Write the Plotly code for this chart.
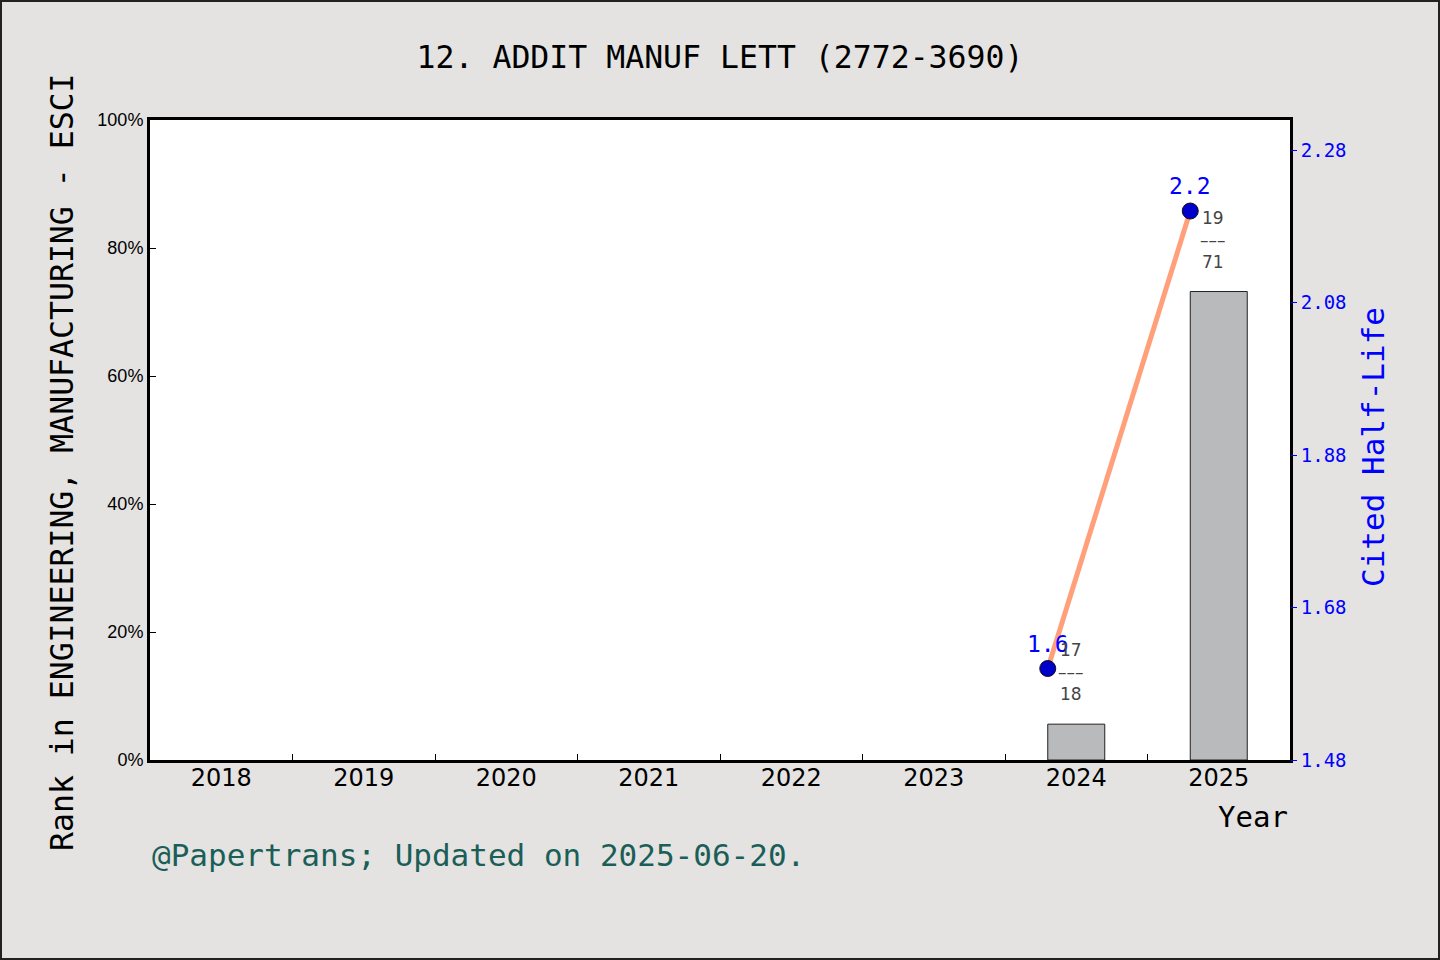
import plotly.graph_objects as go

# data
years = [2018, 2019, 2020, 2021, 2022, 2023, 2024, 2025]
rank_pct = [None, None, None, None, None, None, 5.6, 73.2]
half_life = [None, None, None, None, None, None, 1.6, 2.2]
rank_pos = [None, None, None, None, None, None, 17, 19]
rank_total = [None, None, None, None, None, None, 18, 71]
right_ticks = [1.48, 1.68, 1.88, 2.08, 2.28]
left_ticks = [0, 20, 40, 60, 80, 100]

title_text = "12. ADDIT MANUF LETT (2772-3690)"
left_title = "Rank in ENGINEERING, MANUFACTURING - ESCI"
right_title = "Cited Half-Life"
footer = "@Papertrans; Updated on 2025-06-20."

MONO = "DejaVu Sans Mono"
BG = "#e4e3e1"
W, H = 1440, 960
ML, MR, MT, MB = 150, 150, 120, 200
PW, PH = W - ML - MR, H - MT - MB
shift = 0.2  # line points sit at the left edge of each bar

line_x = [y - shift for y in years]


def px_x(x):
    return (x - ML) / PW


def px_y(y):
    return (MT + PH - y) / PH


fig = go.Figure()

fig.add_trace(go.Bar(
    x=years, y=rank_pct, width=0.4,
    marker=dict(color="#b9babc", line=dict(color="#222222", width=1)),
    showlegend=False, hoverinfo="skip",
))

fig.add_trace(go.Scatter(
    x=line_x, y=half_life, yaxis="y2", mode="lines+markers",
    line=dict(color="#ffa07a", width=5),
    marker=dict(size=16, color="#0000cd", line=dict(color="#111111", width=1)),
    showlegend=False, connectgaps=True,
))

# value labels above the markers
for xv, hv in zip(line_x, half_life):
    if hv is None:
        continue
    fig.add_annotation(
        x=xv, y=hv, yref="y2", text=f"{hv}", showarrow=False,
        yshift=25, font=dict(family=MONO, size=23, color="#0000ff"),
    )

# rank labels sit above each bar
for xv, pv, rp, rt in zip(line_x, rank_pct, rank_pos, rank_total):
    if pv is None:
        continue
    fig.add_annotation(
        x=xv, y=pv, text=f"{rp}<br>–––<br>{rt}", showarrow=False,
        xshift=23, yshift=52, yanchor="middle",
        font=dict(family="DejaVu Sans", size=17, color="#444444"),
    )

# axis titles, footer
fig.add_annotation(
    xref="paper", yref="paper", x=px_x(62), y=px_y(462),
    xanchor="center", yanchor="middle",
    text=left_title, textangle=-90, showarrow=False,
    font=dict(family=MONO, size=31.5, color="#000000"),
)
fig.add_annotation(
    xref="paper", yref="paper", x=px_x(1373), y=px_y(447),
    xanchor="center", yanchor="middle",
    text=right_title, textangle=-90, showarrow=False,
    font=dict(family=MONO, size=31, color="#0000ff"),
)
fig.add_annotation(
    xref="paper", yref="paper", x=px_x(1253), y=px_y(817),
    xanchor="center", yanchor="middle",
    text="Year", showarrow=False,
    font=dict(family=MONO, size=29, color="#000000"),
)
fig.add_annotation(
    xref="paper", yref="paper", x=0, y=px_y(855),
    xanchor="left", yanchor="middle",
    text=footer, showarrow=False,
    font=dict(family=MONO, size=31, color="#1b5e57"),
)

# outer frame of the picture
fig.add_shape(
    type="rect", xref="paper", yref="paper",
    x0=px_x(1), x1=px_x(W - 1), y0=px_y(H - 1), y1=px_y(1),
    line=dict(color="#222222", width=2), layer="below",
)

fig.update_layout(
    width=W, height=H,
    margin=dict(l=ML, r=MR, t=MT, b=MB),
    paper_bgcolor=BG, plot_bgcolor="#ffffff",
    title=dict(text=title_text, x=0.5, xanchor="center", y=1 - 57 / H, yanchor="middle",
               font=dict(family=MONO, size=31.5, color="#000000")),
    xaxis=dict(
        range=[2017.5, 2025.5], tickvals=years, ticktext=[str(y) for y in years],
        ticks="", showgrid=False, zeroline=False, ticklabelstandoff=-6,
        showline=True, linecolor="#000000", linewidth=3, mirror=True,
        tickfont=dict(family="DejaVu Sans", size=24, color="#000000"),
        minor=dict(tickvals=[y + 0.5 for y in years[:-1]], ticks="inside",
                   ticklen=6, tickcolor="#000000", showgrid=False),
    ),
    yaxis=dict(
        range=[0, 100], tickvals=left_ticks, ticktext=[f"{t}%" for t in left_ticks],
        ticks="inside", ticklen=6, tickcolor="#000000", showgrid=False, zeroline=False,
        showline=True, linecolor="#000000", linewidth=3, mirror=True,
        tickfont=dict(family="Liberation Sans", size=18, color="#000000"),
    ),
    yaxis2=dict(
        overlaying="y", side="right", range=[1.48, 1.48 + 0.8 * 640 / 610],
        tickvals=right_ticks, ticktext=[f"{t:.2f}" for t in right_ticks],
        ticks="outside", ticklen=6, tickcolor="#0000ff", showgrid=False, zeroline=False,
        showline=False,
        tickfont=dict(family=MONO, size=19, color="#0000ff"),
    ),
)

fig.write_html("out.html", config={"displayModeBar": False},
               post_script="document.body.style.margin='0px';")
